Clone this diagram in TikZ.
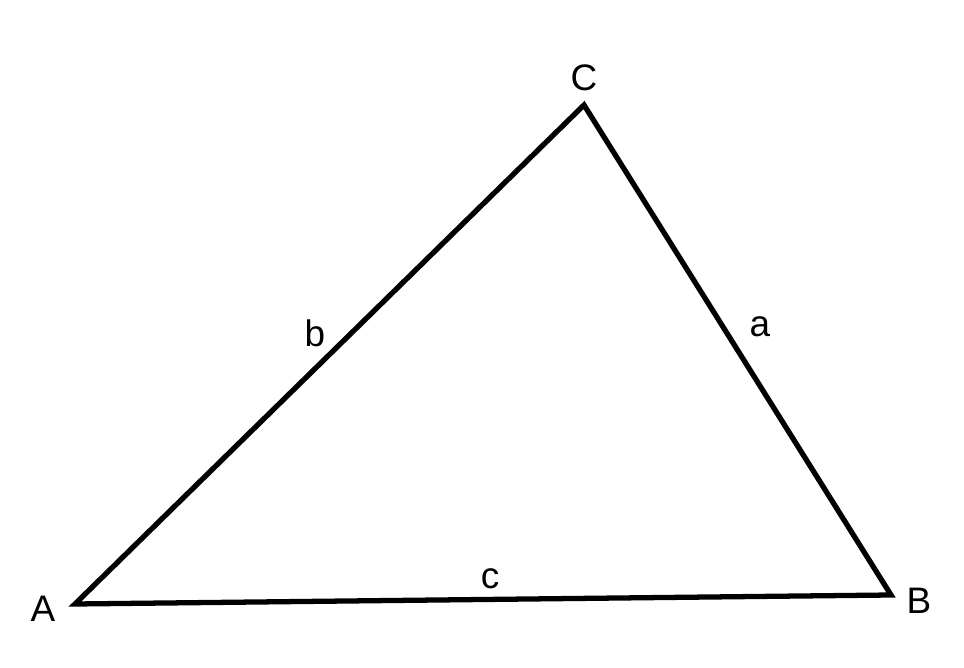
\documentclass[tikz,border=0pt]{standalone}
\usepackage{fontspec}
\setmainfont{Liberation Sans}
\begin{document}
\begin{tikzpicture}[x=0.02cm, y=-0.02cm, font=\fontsize{21}{24}\selectfont]
        \useasboundingbox (0, 0) rectangle (964, 668);
        \coordinate (A) at (75, 604);
        \coordinate (B) at (891, 595);
        \coordinate (C) at (584, 105);
        \draw[line width=3pt] (A) -- (B) -- (C) -- cycle;
        \node (labA) at (43, 609) {A};
        \node (labB) at (919, 601) {B};
        \node (labC) at (584, 78) {C};
        \node (laba) at (760, 327) {a};
        \node (labb) at (315, 333) {b};
        \node (labc) at (490, 579) {c};
      \end{tikzpicture}
\end{document}
